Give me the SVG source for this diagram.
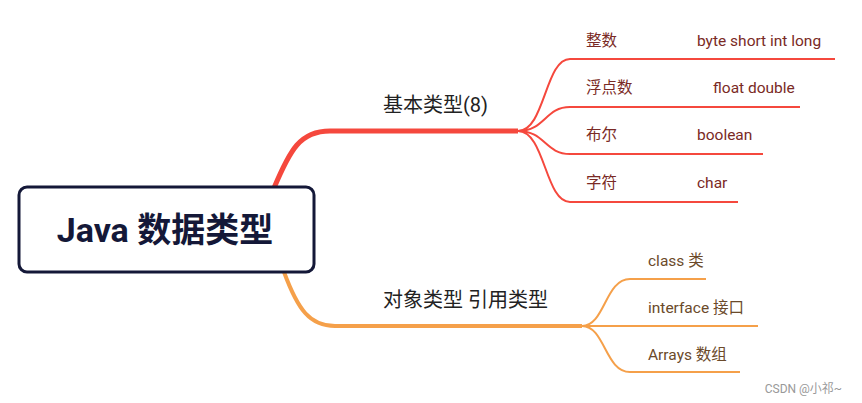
<svg xmlns="http://www.w3.org/2000/svg" width="862" height="403" viewBox="0 0 862 403">
<style>
text{font-family:"Roboto","Noto Sans CJK SC",sans-serif}
.r{fill:none;stroke:#f5483d;stroke-width:2}
.o{fill:none;stroke:#f5a04a;stroke-width:2}
.lr{font-size:15.5px;fill:#7a2a25}
.lo{font-size:15.5px;fill:#6b4a2a}
.m{font-size:20px;fill:#222}
</style>
<rect width="862" height="403" fill="#fff"/>
<g id="connectors">
<path d="M274,188 C290,150 300,131 330,131 L518,131" fill="none" stroke="#f5483d" stroke-width="5"/>
<path d="M284,272 C298,310 310,326 335,326 L582,326" fill="none" stroke="#f5a04a" stroke-width="4"/>
<path class="r" d="M518,131 C545,131 545,59 570,59 L835,59"/>
<path class="r" d="M518,131 C545,131 545,107 570,107 L800,107"/>
<path class="r" d="M518,131 C545,131 545,154 570,154 L763,154"/>
<path class="r" d="M518,131 C545,131 545,202 570,202 L738,202"/>
<path class="o" d="M582,326 C605,326 605,279 630,279 L706,279"/>
<path class="o" d="M582,326 L758,326"/>
<path class="o" d="M582,326 C605,326 605,372 630,372 L740,372"/>
</g>
<g id="root">
<rect x="19" y="187" width="295" height="85" rx="8" fill="#fff" stroke="#141838" stroke-width="3"/>
<text x="165" y="242" text-anchor="middle" font-size="34" font-weight="bold" fill="#141838">Java 数据类型</text>
</g>
<g id="basic"><text class="m" x="383" y="112">基本类型(8)</text></g>
<g id="int"><text class="lr" x="586" y="46">整数</text><text class="lr" x="697" y="46">byte short int long</text></g>
<g id="float"><text class="lr" x="586" y="93">浮点数</text><text class="lr" x="713" y="93">float double</text></g>
<g id="bool"><text class="lr" x="586" y="140">布尔</text><text class="lr" x="697" y="140">boolean</text></g>
<g id="char"><text class="lr" x="586" y="188">字符</text><text class="lr" x="697" y="188">char</text></g>
<g id="obj"><text class="m" x="383" y="307">对象类型 引用类型</text></g>
<g id="class"><text class="lo" x="648" y="266">class 类</text></g>
<g id="iface"><text class="lo" x="648" y="313">interface 接口</text></g>
<g id="arrays"><text class="lo" x="648" y="360">Arrays 数组</text></g>
<text x="842" y="393" text-anchor="end" font-size="12" fill="#999">CSDN @小祁~</text>
</svg>
